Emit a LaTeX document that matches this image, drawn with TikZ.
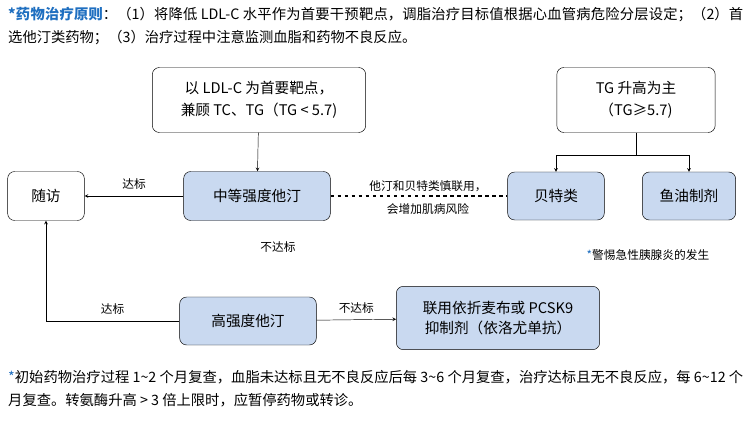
\documentclass[tikz,border=0pt]{standalone}
\usepackage{fontspec}
\setmainfont{Noto Sans CJK SC}
\XeTeXlinebreaklocale "zh"
\XeTeXlinebreakskip = 0pt plus 1pt
\usetikzlibrary{positioning,calc}
\definecolor{boxblue}{HTML}{C9D9F0}
\definecolor{stargreen}{HTML}{1F6FC0}
\begin{document}
\begin{tikzpicture}[
    x=0.03cm, y=-0.03cm,
    box/.style={draw, rounded corners=6pt, fill=boxblue, align=center, font=\fontsize{12.5}{17}\selectfont, inner sep=0pt},
    plain/.style={draw, rounded corners=6pt, fill=white, align=center, font=\fontsize{12.5}{19}\selectfont, inner sep=0pt},
    lbl/.style={font=\fontsize{10}{12}\selectfont, align=center},
    arrow/.style={->, >=stealth}
]
\useasboundingbox (0,0) rectangle (746,423);

% Header and footer text
\node[anchor=north west, text width=22.05cm, align=justify, font=\fontsize{12.2}{20}\selectfont, inner sep=0pt] (head) at (8,7)
 {{\color{stargreen}\bfseries *药物治疗原则}：（1）将降低 LDL-C 水平作为首要干预靶点，调脂治疗目标值根据心血管病危险分层设定；（2）首选他汀类药物；（3）治疗过程中注意监测血脂和药物不良反应。};
\node[anchor=north west, text width=22.05cm, align=justify, font=\fontsize{12.2}{20}\selectfont, inner sep=0pt] (foot) at (8,370)
 {{\color{stargreen}*}初始药物治疗过程 1\textasciitilde2 个月复查，血脂未达标且无不良反应后每 3\textasciitilde6 个月复查，治疗达标且无不良反应，每 6\textasciitilde12 个月复查。转氨酶升高 > 3 倍上限时，应暂停药物或转诊。};

% Boxes
\node[plain, minimum width=6.4cm, minimum height=1.95cm] (ldl) at (259,100) {以 LDL-C 为首要靶点，\\兼顾 TC、TG（TG < 5.7)};
\node[plain, minimum width=4.75cm, minimum height=1.95cm] (tg) at (636,100) {TG 升高为主\\（TG≥5.7)};
\node[plain, minimum width=2.3cm, minimum height=1.47cm] (fu) at (46,196) {随访};
\node[box, minimum width=4.4cm, minimum height=1.47cm] (mid) at (257,196) {中等强度他汀};
\node[box, minimum width=2.9cm, minimum height=1.44cm] (fib) at (556,196) {贝特类};
\node[box, minimum width=2.8cm, minimum height=1.44cm] (fish) at (689,196) {鱼油制剂};
\node[box, minimum width=4.1cm, minimum height=1.44cm] (high) at (248,321) {高强度他汀};
\node[box, minimum width=6.1cm, minimum height=1.9cm] (comb) at (498,318) {联用依折麦布或 PCSK9\\抑制剂（依洛尤单抗）};

% Connectors
\draw[arrow] (ldl) -- (mid);
\coordinate (split) at (636,155);
\draw (tg) -- (split);
\draw[arrow] (split) -| (fib);
\draw[arrow] (split) -| (fish);
\draw[arrow] (mid) -- node[lbl, above=2pt, pos=0.5] {达标} (fu);
\draw[line width=1.3pt, dashed] (mid) -- (fib);
\node[lbl] (warn1) at (428,186) {他汀和贝特类慎联用，};
\node[lbl] (warn2) at (428,209) {会增加肌病风险};
\draw[arrow] (high.west) -| node[lbl, above=2pt, pos=0.25] {达标} (fu.south);
\draw[arrow] (high) -- node[lbl, above=2pt] {不达标} (comb);
\node[lbl] (fail) at (278,247) {不达标};
\node[lbl] (panc) at (648,255) {{\color{stargreen}*}警惕急性胰腺炎的发生};
\end{tikzpicture}
\end{document}
